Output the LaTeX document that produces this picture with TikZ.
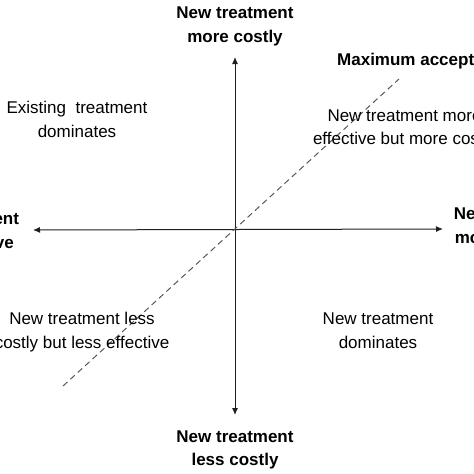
\documentclass[tikz,border=0pt]{standalone}
\usepackage{fontspec}
\setmainfont{Liberation Sans}
\usetikzlibrary{arrows.meta}
\begin{document}
\begin{tikzpicture}[x=1pt,y=-1pt,
  lbl/.style={font=\fontsize{17}{23.5}\selectfont, align=center, inner sep=0pt, anchor=base, text=black},
  blbl/.style={lbl, font=\fontsize{17}{23.5}\selectfont\bfseries},
  axis/.style={line width=1pt, draw=black!88, {Latex[length=7pt,width=6pt]}-{Latex[length=7pt,width=6pt]}},
  threshold/.style={line width=1pt, draw=black!65, dash pattern=on 6pt off 4pt}]
\useasboundingbox (0,0) rectangle (474,474);
\clip (0,0) rectangle (474,474);
\fill[white] (0,0) rectangle (474,474);
% axis end points
\coordinate (top) at (235,57);
\coordinate (bottom) at (235,415);
\coordinate (left) at (33,230);
\coordinate (right) at (443,229);
\coordinate (d1) at (63,386);
\coordinate (d2) at (399,79);
% axes
\draw[axis] (top) -- (bottom);
\draw[axis] (left) -- (right);
\draw[threshold] (d1) -- (d2);
% axis labels (anchor = baseline of last line)
\node[blbl] (ltop) at (235,42) {New treatment\\more costly};
\node[blbl] (lbottom) at (235,465.5) {New treatment\\less costly};
\node[blbl] (lleft) at (-39.5,248) {New treatment\\less effective};
\node[blbl] (lright) at (512.5,243) {New treatment\\more effective};
\node[blbl, anchor=base west] (lmax) at (337,65) {Maximum acceptable ICER};
% quadrant labels
\node[lbl] (qnw) at (77,137) {Existing\ \ treatment\\dominates};
\node[lbl] (qne) at (404.5,144.5) {New treatment more\\effective but more costly};
\node[lbl] (qsw) at (82,348) {New treatment less\\costly but less effective};
\node[lbl] (qse) at (378,348) {New treatment\\dominates};
\end{tikzpicture}
\end{document}
